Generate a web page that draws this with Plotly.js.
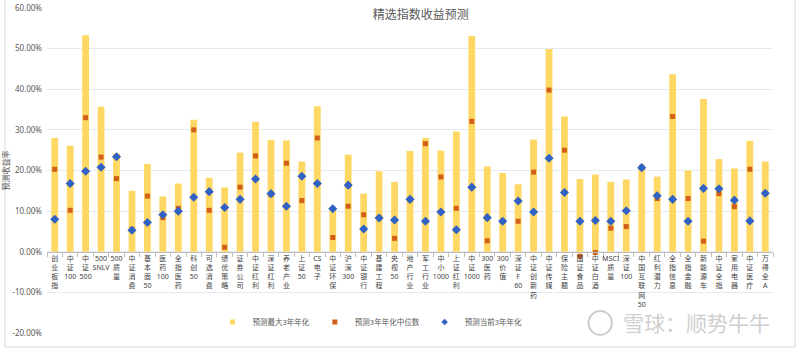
<!DOCTYPE html>
<html>
<head>
<meta charset="utf-8">
<script src="https://cdn.plot.ly/plotly-3.0.1.min.js"></script>
<style>html,body{margin:0;padding:0;background:#fff;}#chart{width:800px;height:351px;}</style>
</head>
<body>
<div id="chart"></div>
<script>
const categories = ["创业板指","中证100","中证500","500SNLV","500质量","中证消费","基本面50","医药100","全指医药","科创50",
"可选消费","绩优策略","证券公司","中证红利","深证红利","养老产业","上证50","CS电子","中证环保","沪深300",
"中证银行","基建工程","央视50","地产行业","军工行业","中小1000","上证红利","中证1000","300医药","300价值",
"深证F60","中证创新药","中证传媒","保险主题","国证食品","中证白酒","MSCI质量","深证100","中国互联网50","红利潜力",
"全指信息","全指金融","新能源车","中证全指","家用电器","中证医疗","万得全A"];

const maxVals = [28.0,26.1,53.3,35.7,24.2,15.0,21.6,13.6,16.8,32.5,
18.2,15.8,24.4,32.0,27.5,27.4,22.2,35.8,10.6,23.9,
14.3,19.8,17.2,24.8,28.0,24.9,29.6,53.1,21.0,19.4,
16.6,27.6,49.9,33.3,17.9,19.0,17.2,17.8,20.7,18.5,
43.7,20.0,37.6,22.8,20.5,27.3,22.2];

const medVals = [20.3,10.2,33.0,23.3,18.0,5.5,13.7,8.4,10.7,30.0,
10.2,1.1,15.9,23.6,14.1,21.8,12.6,28.0,3.5,11.2,
9.1,8.4,3.3,12.8,26.6,18.4,10.7,32.1,2.7,7.5,
7.5,19.6,39.8,25.0,-1.1,-0.2,5.8,6.2,20.8,13.1,
33.3,13.1,2.6,14.3,11.1,20.3,14.4];

const curVals = [8.0,16.8,19.8,20.8,23.4,5.3,7.2,9.1,10.0,13.4,
14.8,10.9,12.9,17.9,14.3,11.2,18.6,16.8,10.6,16.4,
5.6,8.3,7.8,12.9,7.5,9.8,5.4,15.9,8.4,7.5,
12.5,9.8,23.0,14.6,7.5,7.7,7.5,10.1,20.7,13.8,
12.9,7.5,15.6,15.5,12.7,7.6,14.4];

const seriesNames = ["预测最大3年年化","预测3年年化中位数","预测当前3年年化"];
const yTickVals = [-20,-10,0,10,20,30,40,50,60];
const yTickText = ["-20.00%","-10.00%","0.00%","10.00%","20.00%","30.00%","40.00%","50.00%","60.00%"];

const cBar = "#FFD763", cMed = "#D2601A", cCur = "#2F62C4";

// vertical (stacked) tick text: CJK chars one per line, digit runs and letter runs kept together
function stack(s){
  const toks = s.match(/[0-9]+|[A-Za-z]+|./g);
  return toks.join("<br>");
}
const tickText = categories.map(stack);

const FONT = "Noto Sans, Noto Sans CJK SC, sans-serif";

const traces = [
  {type:"bar", x:categories, y:maxVals, name:seriesNames[0], marker:{color:cBar}, showlegend:false},
  {type:"scatter", mode:"markers", x:categories, y:medVals, name:seriesNames[1],
   marker:{symbol:"square", size:5, color:cMed}, showlegend:false},
  {type:"scatter", mode:"markers", x:categories, y:curVals, name:seriesNames[2],
   marker:{symbol:"diamond", size:7, color:cCur}, showlegend:false},
  // legend entries
  {type:"scatter", mode:"markers", x:[null], y:[null], name:seriesNames[0], marker:{symbol:"square", size:5, color:cBar}},
  {type:"scatter", mode:"markers", x:[null], y:[null], name:seriesNames[1], marker:{symbol:"square", size:5, color:cMed}},
  {type:"scatter", mode:"markers", x:[null], y:[null], name:seriesNames[2], marker:{symbol:"diamond", size:5, color:cCur}}
];

const layout = {
  width:800, height:351,
  margin:{l:47, r:27, t:8, b:18},
  paper_bgcolor:"#ffffff", plot_bgcolor:"#ffffff",
  font:{family:FONT, color:"#595959", size:8},
  title:{text:"精选指数收益预测", x:0.526, xref:"container", xanchor:"center", y:0.958, yref:"container", yanchor:"middle",
         font:{family:FONT, size:12, color:"#595959"}},
  bargap:0.56,
  showlegend:true,
  legend:{orientation:"h", x:0.445, xanchor:"center", y:0.034, yanchor:"middle", font:{size:7.5, color:"#595959"},
          bgcolor:"rgba(0,0,0,0)", itemwidth:30, tracegroupgap:0},
  xaxis:{type:"category", tickmode:"array", tickvals:categories, ticktext:tickText, tickangle:0,
         anchor:"free", position:0.25, showline:true, linecolor:"#bfbfbf", linewidth:1,
         ticks:"outside", tickson:"boundaries", ticklen:4, tickcolor:"#bfbfbf",
         showgrid:false, zeroline:false, tickfont:{size:7, color:"#404040", family:FONT}, automargin:false,
         range:[-0.5, categories.length-0.5]},
  yaxis:{range:[-20,60], tickmode:"array", tickvals:yTickVals, ticktext:yTickText,
         showgrid:true, gridcolor:"#e2eaf3", gridwidth:1, zeroline:false, showline:false,
         tickfont:{size:8, color:"#595959"}, automargin:false, ticks:"", ticklabelstandoff:4,
         title:{text:"预测收益率", font:{size:8, color:"#595959"}, standoff:2}},
  shapes:[
    {type:"rect", xref:"paper", yref:"paper", x0:-0.0579, x1:1.0303, y0:-0.0431, y1:1.05,
     line:{color:"#d9d9d9", width:1}, fillcolor:"rgba(0,0,0,0)", layer:"below"},
    {type:"circle", xref:"paper", yref:"paper", x0:0.746, x1:0.778, y0:-0.006, y1:0.068,
     line:{color:"#cccccc", width:2}, fillcolor:"rgba(0,0,0,0)"}
  ],
  annotations:[
    {text:"雪球：顺势牛牛", xref:"paper", yref:"paper", x:0.895, y:0.031, xanchor:"center", yanchor:"middle",
     showarrow:false, font:{family:FONT, size:21, color:"#cfcfcf"}}
  ]
};

Plotly.newPlot("chart", traces, layout, {displayModeBar:false, staticPlot:true});
</script>
</body>
</html>
